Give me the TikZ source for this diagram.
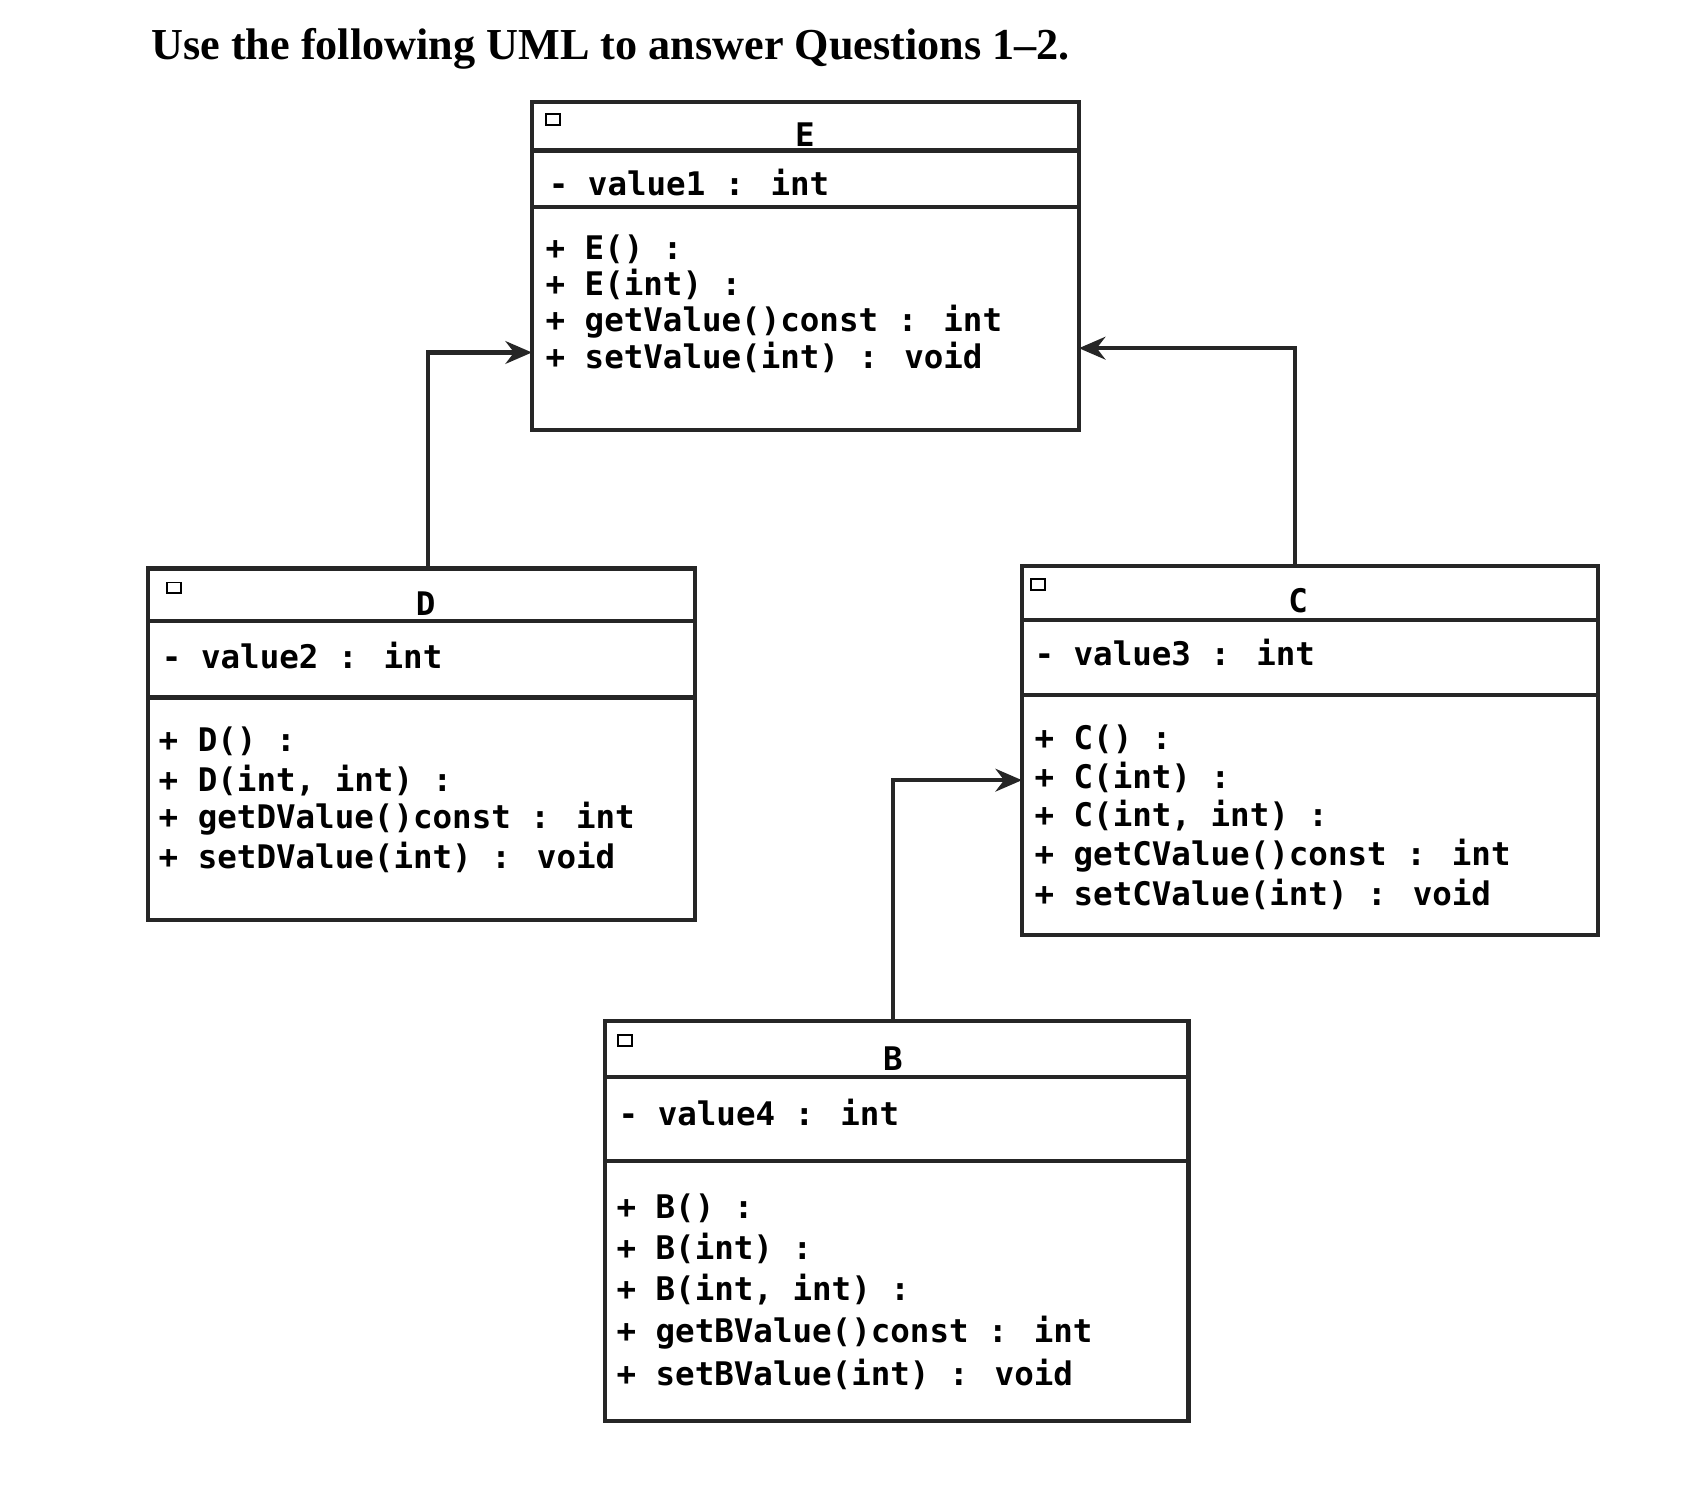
\documentclass[tikz,border=0pt]{standalone}
\usepackage{fontspec}
\setmainfont{Liberation Serif}
\newfontfamily\umlfont{DejaVu Sans Mono}
\usetikzlibrary{arrows.meta}
\begin{document}
\begin{tikzpicture}[x=0.01cm,y=-0.01cm,
  boxline/.style={line width=1.1pt,black!85},
  txt/.style={anchor=west,inner sep=0pt,font=\umlfont\bfseries\fontsize{8.6pt}{10pt}\selectfont},
  ttl/.style={inner sep=0pt,font=\umlfont\bfseries\fontsize{8.6pt}{10pt}\selectfont},
  icon/.style={draw,line width=0.5pt,minimum width=0.13cm,minimum height=0.1cm,inner sep=0pt},
  conn/.style={line width=1.1pt,black!85,-{Stealth[length=7pt,width=6pt]}}]
\useasboundingbox (0,0) rectangle (1568,1387);
\fill[white] (0,0) rectangle (1568,1387);
\node[anchor=west,inner sep=0pt,font=\bfseries\fontsize{11.7pt}{14pt}\selectfont] (title) at (140,45) {Use the following UML to answer Questions 1--2.};
% E
\draw[boxline] (495,95) rectangle (1004,400);
\draw[boxline] (495,140) -- (1004,140) (495,193) -- (1004,193);
\node[icon] (iE) at (515,111) {};
\node[ttl] (E) at (749,125) {E};
\node[txt] (Ea) at (510,170) {- value1 : int};
\node[txt] (E1) at (507,232) {+ E() :};
\node[txt] (E2) at (507,265) {+ E(int) :};
\node[txt] (E3) at (507,299) {+ getValue()const : int};
\node[txt] (E4) at (507,333) {+ setValue(int) : void};
\coordinate (Ein1) at (495,328);
\coordinate (Ein2) at (1004,324);
% D
\draw[boxline] (138,529) rectangle (647,856);
\draw[boxline] (138,578) -- (647,578) (138,649) -- (647,649);
\node[icon] (iD) at (162,547) {};
\node[ttl] (D) at (396,562) {D};
\node[txt] (Da) at (150,610) {- value2 : int};
\node[txt] (D1) at (147,690) {+ D() :};
\node[txt] (D2) at (147,726) {+ D(int, int) :};
\node[txt] (D3) at (147,762) {+ getDValue()const : int};
\node[txt] (D4) at (147,798) {+ setDValue(int) : void};
\coordinate (Dtop) at (398,529);
% C
\draw[boxline] (951,527) rectangle (1487,870);
\draw[boxline] (951,577) -- (1487,577) (951,647) -- (1487,647);
\node[icon] (iC) at (966,544) {};
\node[ttl] (C) at (1208,559) {C};
\node[txt] (Ca) at (962,607) {- value3 : int};
\node[txt] (C1) at (962,688) {+ C() :};
\node[txt] (C2) at (962,723) {+ C(int) :};
\node[txt] (C3) at (962,759) {+ C(int, int) :};
\node[txt] (C4) at (962,796) {+ getCValue()const : int};
\node[txt] (C5) at (962,832) {+ setCValue(int) : void};
\coordinate (Ctop) at (1205,527);
\coordinate (Cin) at (951,726);
% B
\draw[boxline] (563,950) rectangle (1106,1322);
\draw[boxline] (563,1002) -- (1106,1002) (563,1080) -- (1106,1080);
\node[icon] (iB) at (582,968) {};
\node[ttl] (B) at (831,985) {B};
\node[txt] (Ba) at (575,1035) {- value4 : int};
\node[txt] (B1) at (573,1124) {+ B() :};
\node[txt] (B2) at (573,1162) {+ B(int) :};
\node[txt] (B3) at (573,1200) {+ B(int, int) :};
\node[txt] (B4) at (573,1240) {+ getBValue()const : int};
\node[txt] (B5) at (573,1279) {+ setBValue(int) : void};
\coordinate (Btop) at (831,950);
% connectors
\draw[conn] (Dtop) |- (Ein1);
\draw[conn] (Ctop) |- (Ein2);
\draw[conn] (Btop) |- (Cin);
\end{tikzpicture}
\end{document}
